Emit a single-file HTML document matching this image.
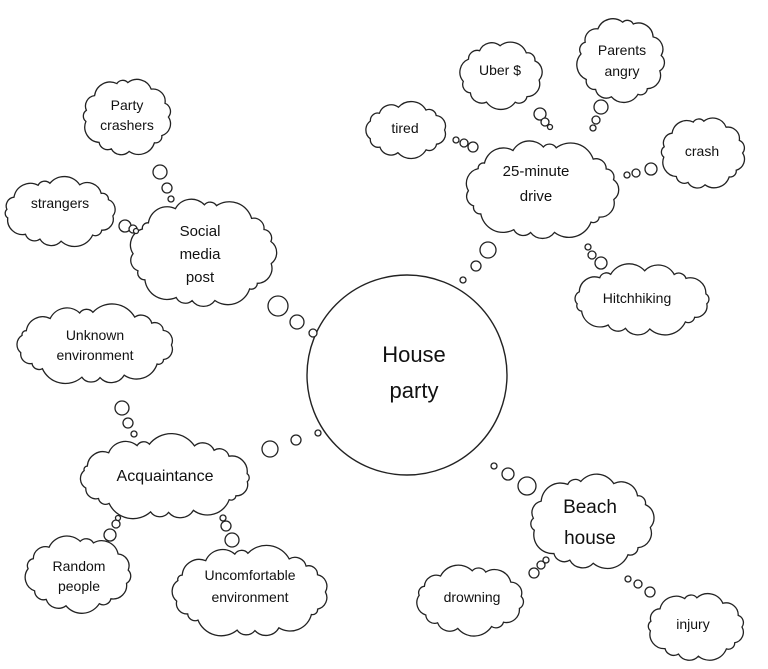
<!DOCTYPE html>
<html><head><meta charset="utf-8"><style>
html,body{margin:0;padding:0;background:#fff;}
svg{display:block;}
text{font-family:"Liberation Sans",sans-serif;fill:#111;text-anchor:middle;}
</style></head><body>
<svg id="s" width="768" height="669" viewBox="0 0 768 669" xmlns="http://www.w3.org/2000/svg">
<g id="clouds" fill="#fff" stroke="#222" stroke-width="1.3"></g>
<circle cx="407" cy="375" r="100" fill="#fff" stroke="#222" stroke-width="1.4"/>
<g id="bub" fill="#fff" stroke="#222" stroke-width="1.3"></g>
<g font-size="14">
<text x="127" y="110">Party</text><text x="127" y="130">crashers</text>
<text x="60" y="208">strangers</text>
<text x="200" y="236" font-size="15">Social</text><text x="200" y="259" font-size="15">media</text><text x="200" y="282" font-size="15">post</text>
<text x="95" y="340">Unknown</text><text x="95" y="360">environment</text>
<text x="165" y="481" font-size="16">Acquaintance</text>
<text x="79" y="571">Random</text><text x="79" y="591">people</text>
<text x="250" y="580">Uncomfortable</text><text x="250" y="602">environment</text>
<text x="414" y="362" font-size="22">House</text><text x="414" y="398" font-size="22">party</text>
<text x="590" y="513" font-size="19">Beach</text><text x="590" y="544" font-size="19">house</text>
<text x="472" y="602">drowning</text>
<text x="693" y="629">injury</text>
<text x="637" y="303">Hitchhiking</text>
<text x="536" y="176" font-size="15">25-minute</text><text x="536" y="201" font-size="15">drive</text>
<text x="405" y="133">tired</text>
<text x="500" y="75">Uber $</text>
<text x="622" y="55">Parents</text><text x="622" y="76">angry</text>
<text x="702" y="156">crash</text>
</g>
</svg>
<script>
var C=[[127,117,45,40,9],[60,212,58,34,10],[203,253,76,56,12],[95,345,83,38,12],[165,478,90,40,13],[78,574,55,38,9],[250,592,82,45,12],[592,522,64,48,10],[470,600,56,34,9],[696,627,50,34,9],[642,300,71,34,11],[542,190,80,50,12],[406,130,42,27,8],[501,75,42,34,8],[621,60,44,44,9],[703,153,43,37,9]];
var g=document.getElementById('clouds'),ns='http://www.w3.org/2000/svg';
C.forEach(function(c,k){var cx=c[0],cy=c[1],rx=c[2]*0.92,ry=c[3]*0.86,n=Math.round(c[4]*1.4),d='';var pts=[];
for(var i=0;i<n;i++){var a=(i+0.3*(k%3))/n*2*Math.PI+0.12*Math.sin(i*2.3);pts.push([cx+rx*Math.cos(a),cy+ry*Math.sin(a)]);}
d='M'+pts[0][0].toFixed(1)+' '+pts[0][1].toFixed(1);
for(var i=1;i<=n;i++){var p=pts[i%n],q=pts[i-1];var L=Math.hypot(p[0]-q[0],p[1]-q[1]);var r=L*0.62;d+=' A'+r.toFixed(1)+' '+r.toFixed(1)+' 0 0 1 '+p[0].toFixed(1)+' '+p[1].toFixed(1);}
var e=document.createElementNS(ns,'path');e.setAttribute('d',d+'Z');g.appendChild(e);});
var B=[[160,172,7],[167,188,5],[171,199,3],[125,226,6],[133,229,4],[136,231,2.5],[278,306,10],[297,322,7],[313,333,4],[122,408,7],[128,423,5],[134,434,3],[270,449,8],[296,440,5],[318,433,3],[110,535,6],[116,524,4],[118,518,2.5],[232,540,7],[226,526,5],[223,518,3],[527,486,9],[508,474,6],[494,466,3],[534,573,5],[541,565,4],[546,560,3],[628,579,3],[638,584,4],[650,592,5],[476,266,5],[488,250,8],[463,280,3],[588,247,3],[592,255,4],[601,263,6],[456,140,3],[464,143,4],[473,147,5],[540,114,6],[545,122,4],[550,127,2.5],[601,107,7],[596,120,4],[593,128,3],[627,175,3],[636,173,4],[651,169,6]];
var b=document.getElementById('bub');B.forEach(function(c){var e=document.createElementNS(ns,'circle');e.setAttribute('cx',c[0]);e.setAttribute('cy',c[1]);e.setAttribute('r',c[2]);b.appendChild(e);});
</script>
</body></html>
